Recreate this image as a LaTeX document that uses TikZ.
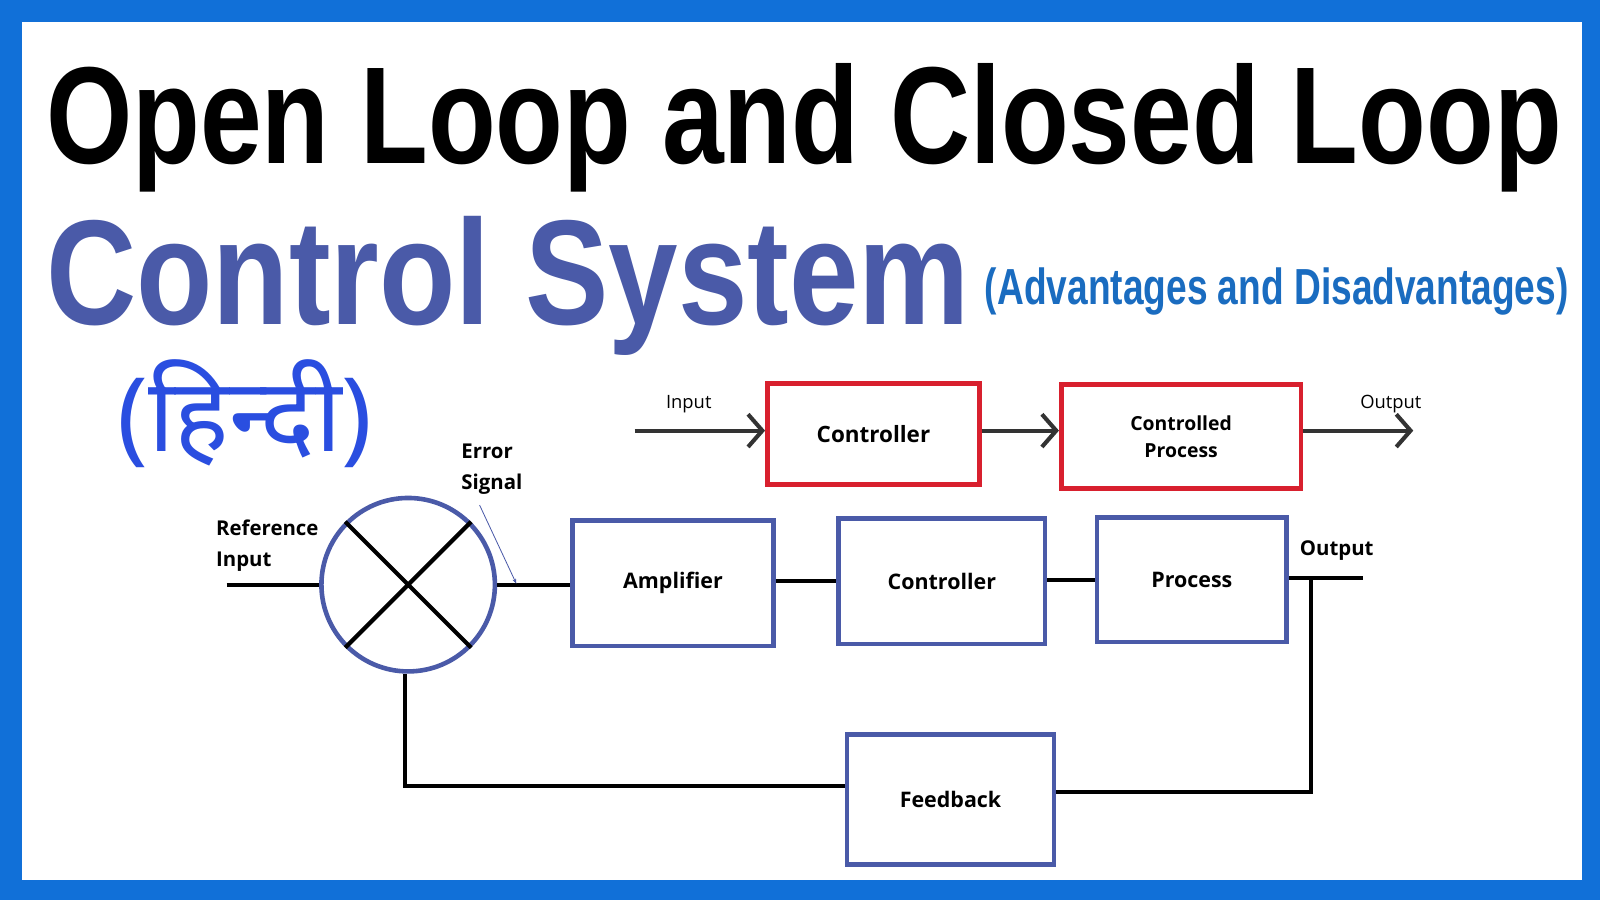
\documentclass[tikz,border=0pt]{standalone}
\usepackage{fontspec}
\setmainfont{Open Sans}
\newfontfamily\titlefont{Liberation Sans}
\newfontfamily\hindifont[Script=Devanagari]{Noto Sans}
\usetikzlibrary{arrows.meta}
\definecolor{frameblue}{HTML}{1170D8}
\definecolor{boxblue}{HTML}{4A5AA8}
\definecolor{subblue}{HTML}{1A6CC0}
\definecolor{hindiblue}{HTML}{2A4EE0}
\definecolor{boxred}{HTML}{D8202E}
\begin{document}
\begin{tikzpicture}[x=1pt,y=-1pt,
  bbox/.style={draw=boxblue,line width=4.5pt,minimum width=#1,font=\fontsize{21}{24}\selectfont\bfseries},
  rbox/.style={draw=boxred,line width=4.5pt,font=\fontsize{19}{26}\selectfont\bfseries,align=center},
  wire/.style={line width=4pt},
  oarrow/.style={line width=4pt,draw=black!80,-{Straight Barb[length=14pt,width=32pt,line width=4pt]}},
  lab/.style={font=\fontsize{20}{30}\selectfont\bfseries,align=left,inner sep=0pt},
  slab/.style={font=\fontsize{18}{22}\selectfont,inner sep=0pt}]
\fill[frameblue] (0,0) rectangle (1568,882);
\fill[white] (22,22) rectangle (1550,862);
% titles
\node[anchor=base west,inner sep=0pt] (t1) at (45,160) {\resizebox{1485pt}{98pt}{\titlefont\bfseries Open Loop and Closed Loop}};
\node[anchor=base west,inner sep=0pt,text=boxblue] (t2) at (45,318) {\resizebox{905pt}{106pt}{\titlefont\bfseries Control System}};
\node[anchor=base west,inner sep=0pt,text=subblue] (t3) at (965,298) {\resizebox{572pt}{36pt}{\titlefont\bfseries (Advantages and Disadvantages)}};
\node[anchor=center,inner sep=0pt,text=hindiblue] (t4) at (240,405) {\resizebox{250pt}{!}{\hindifont\bfseries (हिन्दी)}};
% open loop
\node[rbox,minimum width=208pt,minimum height=99pt,font=\fontsize{22}{26}\selectfont\bfseries] (oc) at (856,425.5) {Controller};
\node[rbox,minimum width=235pt,minimum height=102pt] (op) at (1157.5,428) {Controlled\\Process};
\coordinate (oin) at (622,422);
\coordinate (oout) at (1385,422);
\draw[oarrow] (oin) -- (oc.west|-oin);
\draw[oarrow] (oc.east|-oin) -- (op.west|-oin);
\draw[oarrow] (op.east|-oin) -- (oout);
\node[slab] (linput) at (675,396) {Input};
\node[slab] (loutput) at (1363,396) {Output};
% closed loop
\node[draw=boxblue,line width=4.5pt,circle,minimum size=170pt,inner sep=0pt] (sum) at (400,573) {};
\draw[wire] (sum.north east) -- (sum.south west) (sum.north west) -- (sum.south east);
\node[bbox=197pt,minimum height=123pt] (amp) at (659.5,571.5) {Amplifier};
\node[bbox=202pt,minimum height=123pt] (ctl) at (923,569.5) {Controller};
\node[bbox=186pt,minimum height=122pt] (proc) at (1168,568) {Process};
\node[bbox=203pt,minimum height=127pt] (fb) at (931.5,783.5) {Feedback};
\coordinate (rin) at (222,573);
\coordinate (out) at (1336,566);
\coordinate (tap) at (1285,566);
\coordinate (c1) at (1285,776);
\coordinate (c2) at (397,770);
\draw[wire] (rin) -- (sum.west);
\draw[wire] (sum.east) -- (amp.west|-sum.east);
\draw[wire] (amp.east|-ctl.west) -- (ctl.west);
\draw[wire] (ctl.east|-proc.west) -- (proc.west);
\draw[wire] (proc.east|-out) -- (out);
\draw[wire] (tap) -- (c1) -- (fb.east|-c1);
\draw[wire] (fb.west|-c2) -- (c2) -- (sum.south-|c2);
\node[lab] (lref) at (262,535) {Reference\\Input};
\node[lab] (lerr) at (482,460) {Error\\Signal};
\node[lab] (lout) at (1310,540) {Output};
\coordinate (ea) at (470,495);
\coordinate (eb) at (506,572);
\draw[boxblue,line width=0.8pt,-{Stealth[length=5pt]}] (ea) -- (eb);
\end{tikzpicture}
\end{document}
